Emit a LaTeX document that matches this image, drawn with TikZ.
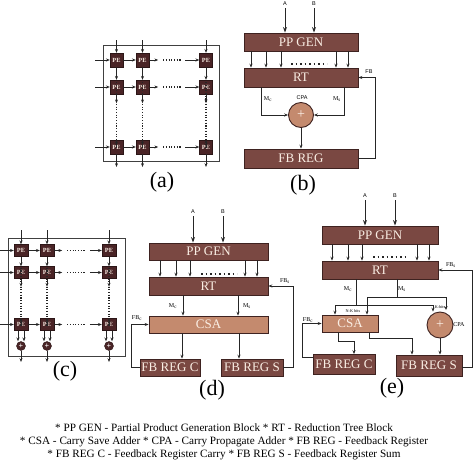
\documentclass[tikz,border=0pt]{standalone}
\usepackage{fontspec}
\setmainfont{Liberation Serif}
\newfontfamily\lsans{Liberation Sans}
\usetikzlibrary{arrows.meta}
\definecolor{boxc}{RGB}{122,72,66}
\definecolor{bord}{RGB}{62,34,32}
\definecolor{csac}{RGB}{196,138,110}
\definecolor{pec}{RGB}{74,36,38}
\definecolor{txtc}{RGB}{250,238,228}
\tikzset{
  blk/.style={draw=bord, line width=0.9pt, fill=boxc, inner sep=0pt, text=txtc, font=\fontsize{13}{13}\selectfont},
  csab/.style={draw=bord, line width=0.9pt, fill=csac, inner sep=0pt, text=txtc, font=\fontsize{13}{13}\selectfont},
  addc/.style={circle, draw=bord, line width=0.9pt, fill=csac, inner sep=0pt, text=txtc, font=\fontsize{14}{14}\selectfont},
  pe/.style={draw=pec!60!black, fill=pec, minimum width=13pt, minimum height=14pt, inner sep=0pt, text=txtc, font=\fontsize{6.3}{6.3}\selectfont\bfseries},
  pec2/.style={pe, minimum width=14pt, minimum height=12pt},
  plusc/.style={circle, fill=pec, draw=pec!60!black, minimum size=9pt, inner sep=0pt, text=white, font=\fontsize{8}{8}\selectfont\bfseries},
  arr/.style={-{Stealth[length=3.8pt,width=3pt]}, line width=0.7pt, draw=black!85},
  inarr/.style={-{Stealth[length=5.5pt,width=4pt]}, line width=1pt, draw=black!85},
  wire/.style={line width=0.7pt, draw=black!85},
  dots/.style={line width=1.1pt, dash pattern=on 1.1pt off 1.6pt, draw=black!85},
  bdots/.style={line width=1.6pt, dash pattern=on 1.6pt off 2.9pt, draw=black!85},
  frame/.style={draw=black!75, line width=1pt},
  lab/.style={font=\fontsize{22}{22}\selectfont},
  sm/.style={font=\fontsize{6}{6}\selectfont, inner sep=0pt},
  ssm/.style={font=\lsans\fontsize{5.5}{6}\selectfont, inner sep=0pt},
  tiny/.style={font=\fontsize{4.2}{4.5}\selectfont, inner sep=0pt},
  captxt/.style={font=\fontsize{11.2}{12}\selectfont, inner sep=0pt}
}
\begin{document}
\begin{tikzpicture}[x=1pt,y=-1pt]
\useasboundingbox (0,0) rectangle (474,463);
% ================= (a) =================
\draw[frame] (103,45) rectangle (219,161);
\foreach \c/\x in {1/116.5,2/142.5,3/206}{
  \foreach \r/\y in {1/60,2/87,3/147}{
    \node[pe] (pa\r\c) at (\x,\y) {PE};
  }
  \coordinate (ta\c) at (\x,40);
  \coordinate (ba\c) at (\x,167);
  \draw[arr] (ta\c) -- (pa1\c.north);
  \draw[arr] (pa3\c.south) -- (ba\c);
  \draw[arr] (pa1\c.south) -- (pa2\c.north);
  \draw[arr] (pa2\c.south) -- ++(0,9);
  \draw[dots] ([yshift=12]pa2\c.south) -- ([yshift=-9]pa3\c.north);
  \draw[arr] ([yshift=-7]pa3\c.north) -- (pa3\c.north);
}
\foreach \r/\y in {1/60,2/87,3/147}{
  \coordinate (la\r) at (95,\y);
  \draw[arr] (la\r) -- (pa\r1.west);
  \draw[arr] (pa\r1.east) -- (pa\r2.west);
  \draw[arr] (pa\r2.east) -- ++(9,0);
  \draw[dots] ([xshift=14]pa\r2.east) -- ([xshift=-18]pa\r3.west);
  \draw[arr] ([xshift=-14]pa\r3.west) -- (pa\r3.west);
}
\node[lab] (la) at (162,182) {(a)};
% ================= (b) =================
\node[blk, minimum width=114pt, minimum height=18pt] (bpp) at (301,42) {PP GEN};
\node[blk, minimum width=114pt, minimum height=19pt] (brt) at (301,77.5) {RT};
\node[addc, minimum size=25pt] (bcpa) at (301,115) {+};
\node[blk, minimum width=114pt, minimum height=19pt] (bfb) at (301,158.5) {FB REG};
\node[ssm] (bA) at (285,4) {A};
\node[ssm] (bB) at (314,4) {B};
\draw[inarr] (bA.south) ++(0,2) -- (bpp.north -| bA);
\draw[inarr] (bB.south) ++(0,2) -- (bpp.north -| bB);
\foreach \x in {251,266,281,336,348}{
  \draw[arr] (bpp.south -| \x,0) -- (brt.north -| \x,0);
}
\draw[bdots] (291,64) -- (327,64);
\draw[arr] (brt.south -| 261,0) |- (bcpa.west);
\draw[arr] (brt.south -| 344,0) |- (bcpa.east);
\draw[arr] (bcpa.south) -- (bfb.north);
\draw[arr] (bfb.east) -- ++(17,0) |- (brt.east);
\node[ssm] (bfbl) at (369,72) {FB};
\node[sm] (bmc) at (268,99) {M\textsubscript{c}};
\node[ssm] (bcpl) at (302,98) {CPA};
\node[sm] (bms) at (337,99) {M\textsubscript{s}};
\node[lab] (lb) at (303,185) {(b)};
% ================= (c) =================
\draw[frame] (8,238) rectangle (125,356);
\foreach \c/\x in {1/21,2/47,3/109}{
  \foreach \r/\y in {1/250.5,2/272.5,3/324.5}{
    \node[pec2] (pc\r\c) at (\x,\y) {PE};
  }
  \node[plusc] (ad\c) at (\x,346) {+};
  \coordinate (tc\c) at (\x,230);
  \coordinate (bc\c) at (\x,362);
  \draw[arr] (tc\c) -- (pc1\c.north);
  \draw[arr] ([xshift=-3]pc3\c.south) -- ([xshift=-3]ad\c.north);
  \draw[arr] ([xshift=3]pc3\c.south) -- ([xshift=3]ad\c.north);
  \draw[arr] (ad\c.south) -- (bc\c);
  \draw[arr] (pc1\c.south) -- (pc2\c.north);
  \draw[arr] (pc2\c.south) -- ++(0,8);
  \draw[dots] ([yshift=11]pc2\c.south) -- ([yshift=-8]pc3\c.north);
  \draw[arr] ([yshift=-6]pc3\c.north) -- (pc3\c.north);
}
\foreach \r/\y in {1/250.5,2/272.5,3/324.5}{
  \coordinate (lc\r) at (0,\y);
  \draw[arr] (lc\r) -- (pc\r1.west);
  \draw[arr] (pc\r1.east) -- (pc\r2.west);
  \draw[arr] (pc\r2.east) -- ++(8,0);
  \draw[dots] ([xshift=13]pc\r2.east) -- ([xshift=-17]pc\r3.west);
  \draw[arr] ([xshift=-12]pc\r3.west) -- (pc\r3.west);
}
\node[lab] (lc) at (65,371) {(c)};
% ================= (d) =================
\node[blk, minimum width=119pt, minimum height=17pt] (dpp) at (208.5,251.5) {PP GEN};
\node[blk, minimum width=119pt, minimum height=18pt] (drt) at (208.5,286) {RT};
\node[csab, minimum width=119pt, minimum height=17pt] (dcsa) at (208.5,324.5) {CSA};
\node[blk, minimum width=60pt, minimum height=17pt] (dfc) at (170,367.5) {FB REG C};
\node[blk, minimum width=62pt, minimum height=17pt] (dfs) at (252,367.5) {FB REG S};
\node[ssm] (dA) at (193,212) {A};
\node[ssm] (dB) at (223,212) {B};
\draw[inarr] (dA.south) ++(0,2) -- (dpp.north -| dA);
\draw[inarr] (dB.south) ++(0,2) -- (dpp.north -| dB);
\foreach \x in {160,176,190,245,257}{
  \draw[arr] (dpp.south -| \x,0) -- (drt.north -| \x,0);
}
\draw[bdots] (201,274) -- (237,274);
\draw[arr] (drt.south -| 183,0) -- (dcsa.north -| 183,0);
\draw[arr] (drt.south -| 238,0) -- (dcsa.north -| 238,0);
\node[sm] (dmc) at (173,306) {M\textsubscript{c}};
\node[sm] (dms) at (247,306) {M\textsubscript{s}};
\draw[arr] (dcsa.south -| 182,0) -- (dfc.north -| 182,0);
\draw[arr] (dcsa.south -| 239,0) -- (dfs.north -| 239,0);
\draw[arr] (dfs.east) -- ++(10,0) |- (drt.east);
\node[sm] (dfbs) at (285,281) {FB\textsubscript{s}};
\draw[arr] (dfc.west) -- ++(-8,0) |- (dcsa.west);
\node[sm] (dfbc) at (137,318) {FB\textsubscript{c}};
\node[lab] (ld) at (212,390) {(d)};
% ================= (e) =================
\node[blk, minimum width=116pt, minimum height=18pt] (epp) at (380,235) {PP GEN};
\node[blk, minimum width=116pt, minimum height=18pt] (ert) at (380,270) {RT};
\node[csab, minimum width=56pt, minimum height=17pt] (ecsa) at (350,323.5) {CSA};
\node[addc, minimum size=26pt] (ecpa) at (440,325) {+};
\node[blk, minimum width=62pt, minimum height=20pt] (efc) at (344,364.5) {FB REG C};
\node[blk, minimum width=66pt, minimum height=21pt] (efs) at (429,365.5) {FB REG S};
\node[ssm] (eA) at (365,196) {A};
\node[ssm] (eB) at (395,196) {B};
\draw[inarr] (eA.south) ++(0,2) -- (epp.north -| eA);
\draw[inarr] (eB.south) ++(0,2) -- (epp.north -| eB);
\foreach \x in {332,348,362,417,429}{
  \draw[arr] (epp.south -| \x,0) -- (ert.north -| \x,0);
}
\draw[bdots] (373,257) -- (407,257);
% Mc
\coordinate (emc) at (356,305);
\draw[wire] (ert.south -| emc) -- (emc);
\draw[arr] (emc) -| (ecsa.north -| 335,0);
\draw[arr] (emc) -| ([xshift=-7]ecpa.north);
% Ms
\coordinate (ems) at (397,297);
\draw[wire] (ert.south -| ems) -- (ems);
\draw[arr] (ems) -| (ecsa.north -| 367,0);
\draw[arr] (ems) -| ([xshift=6,yshift=1.5]ecpa.north);
\node[sm] (emcl) at (348,289) {M\textsubscript{c}};
\node[sm] (emsl) at (402,289) {M\textsubscript{s}};
\node[tiny] (enk) at (353,311) {N-K bits};
\node[tiny] (ek) at (440,307.5) {K-bits};
\node[sm] (ecpl) at (459,325) {CPA};
% outputs
\draw[arr] (ecsa.south -| 338,0) |- (354,341) -- (efc.north -| 354,0);
\draw[arr] (ecsa.south -| 369,0) |- (412,338) -- (efs.north -| 412,0);
\draw[arr] (ecpa.south) -- (efs.north -| ecpa);
\draw[arr] ([yshift=-2]efs.east) -- ++(10,0) |- (ert.east);
\node[sm] (efbs) at (451,265) {FB\textsubscript{s}};
\draw[arr] ([yshift=7]efc.west) -- ++(-10,0) |- (ecsa.west);
\node[sm] (efbc) at (308,320) {FB\textsubscript{c}};
\node[lab] (le) at (392,388) {(e)};
% ================= caption =================
\node[captxt] (c1) at (224,428) {* PP GEN - Partial Product Generation Block * RT - Reduction Tree Block};
\node[captxt] (c2) at (224,441.5) {* CSA - Carry Save Adder * CPA - Carry Propagate Adder * FB REG - Feedback Register};
\node[captxt] (c3) at (224,454.5) {* FB REG C - Feedback Register Carry * FB REG S - Feedback Register Sum};
\end{tikzpicture}
\end{document}
